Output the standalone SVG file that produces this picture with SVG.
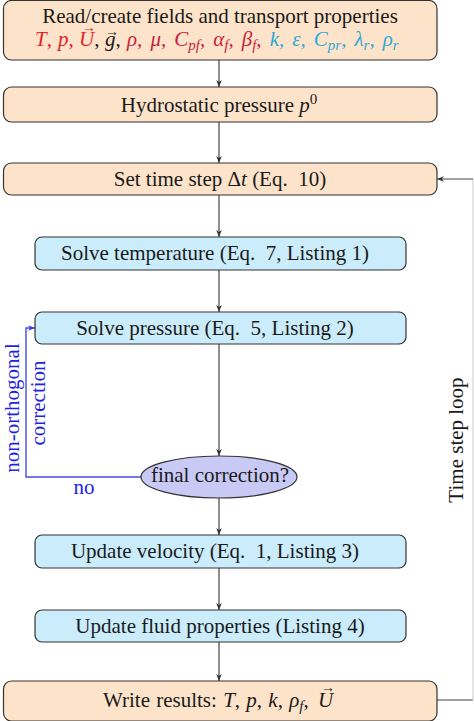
<svg xmlns="http://www.w3.org/2000/svg" width="474" height="721" viewBox="0 0 474 721">
<defs>
<style>
text{font-family:'Liberation Serif','Tinos','Times New Roman','DejaVu Serif',serif;font-size:21px;fill:#1a1a1a}
.m{font-style:italic}
.or{fill:#fde3c9;stroke:#333;stroke-width:1.2}
.bl{fill:#cbecfa;stroke:#333;stroke-width:1.2}
.c{stroke:#444;stroke-width:1.2;fill:none}
.cb{stroke:#4a4ae0;stroke-width:1.4;fill:none}
.red{fill:#e3222c}
.crim{fill:#c81e3c}
.cy{fill:#2fa8d8}
.blu{fill:#1f1fe6}
.vec{font-size:14px;font-style:normal}
.sb{font-size:15px}
.n{font-style:normal}
</style>
<marker id="ah" viewBox="0 0 10 10" refX="10" refY="5" markerWidth="7" markerHeight="7" orient="auto" markerUnits="userSpaceOnUse"><path d="M0,1 L10,5 L0,9 L3,5 Z" fill="#333"/></marker>
<marker id="ahb" viewBox="0 0 10 10" refX="10" refY="5" markerWidth="7" markerHeight="7" orient="auto" markerUnits="userSpaceOnUse"><path d="M0,1 L10,5 L0,9 L3,5 Z" fill="#3a3ae0"/></marker>
</defs>
<rect width="474" height="721" fill="#fff"/>
<g id="connectors">
<line class="c" x1="219" y1="60" x2="219" y2="87" marker-end="url(#ah)"/>
<line class="c" x1="219" y1="122" x2="219" y2="163" marker-end="url(#ah)"/>
<line class="c" x1="219" y1="195" x2="219" y2="237" marker-end="url(#ah)"/>
<line class="c" x1="219" y1="270" x2="219" y2="312" marker-end="url(#ah)"/>
<line class="c" x1="219" y1="344" x2="219" y2="456" marker-end="url(#ah)"/>
<line class="c" x1="219" y1="498" x2="219" y2="535" marker-end="url(#ah)"/>
<line class="c" x1="219" y1="568" x2="219" y2="610" marker-end="url(#ah)"/>
<line class="c" x1="219" y1="642" x2="219" y2="681" marker-end="url(#ah)"/>
<line class="c" x1="437" y1="700" x2="473" y2="700"/>
<line x1="473" y1="700" x2="473" y2="179" stroke="#d8d8d8" stroke-width="1.4"/>
<line class="c" x1="473" y1="179" x2="437" y2="179" marker-end="url(#ah)"/>
<polyline class="cb" points="141,477 26,477 26,328 35,328" marker-end="url(#ahb)"/>
<text class="blu" x="84" y="494" text-anchor="middle" font-size="20">no</text>
<text class="blu" transform="translate(18.5,408) rotate(-90)" text-anchor="middle" font-size="19">non-orthogonal</text>
<text class="blu" transform="translate(45,403) rotate(-90)" text-anchor="middle" font-size="20">correction</text>
<text transform="translate(463,440) rotate(-90)" text-anchor="middle">Time step loop</text>
</g>
<g id="n1">
<rect class="or" x="3.5" y="0.5" width="433.5" height="59.5" rx="8"/>
<text x="220" y="23" text-anchor="middle">Read/create fields and transport properties</text>
<text class="m" y="46" font-size="22" word-spacing="2.8"><tspan class="red" x="35">T<tspan class="n">,</tspan></tspan><tspan class="red" x="58">p<tspan class="n">,</tspan></tspan><tspan class="red" x="79">U</tspan><tspan class="n">,</tspan><tspan x="105">g</tspan><tspan class="n">,</tspan><tspan class="crim" x="127">ρ, μ, C<tspan class="sb" dy="4">pf</tspan><tspan dy="-4">, α</tspan><tspan class="sb" dy="4">f</tspan><tspan dy="-4">, β</tspan><tspan class="sb" dy="4">f</tspan><tspan dy="-4" class="n">, </tspan></tspan><tspan class="cy">k, ε, C<tspan class="sb" dy="4">pr</tspan><tspan dy="-4">, λ</tspan><tspan class="sb" dy="4">r</tspan><tspan dy="-4">, ρ</tspan><tspan class="sb" dy="4">r</tspan></tspan></text>
<text class="vec red" x="89" y="31.5" text-anchor="middle">→</text>
<text class="vec" x="112" y="36" text-anchor="middle">→</text>
</g>
<g id="n2">
<rect class="or" x="3.5" y="87" width="433.5" height="35" rx="8"/>
<text x="219" y="112" text-anchor="middle">Hydrostatic pressure <tspan class="m">p</tspan><tspan font-size="15" dy="-8">0</tspan></text>
</g>
<g id="n3">
<rect class="or" x="3.5" y="163" width="433.5" height="32" rx="8"/>
<text x="220" y="186" text-anchor="middle">Set time step Δ<tspan class="m">t</tspan> (Eq.&#160; 10)</text>
</g>
<g id="n4">
<rect class="bl" x="35" y="237" width="371" height="33" rx="7"/>
<text x="215" y="260" text-anchor="middle">Solve temperature (Eq.&#160; 7, Listing 1)</text>
</g>
<g id="n5">
<rect class="bl" x="35" y="312" width="371" height="32" rx="7"/>
<text x="215" y="335" text-anchor="middle">Solve pressure (Eq.&#160; 5, Listing 2)</text>
</g>
<g id="n6">
<ellipse cx="219" cy="477" rx="78" ry="21" fill="#c9c9f6" stroke="#333" stroke-width="1.2"/>
<text x="220" y="482" text-anchor="middle" font-size="14.3">final correction?</text>
</g>
<g id="n7">
<rect class="bl" x="35" y="535" width="371" height="33" rx="7"/>
<text x="215" y="558" text-anchor="middle">Update velocity (Eq.&#160; 1, Listing 3)</text>
</g>
<g id="n8">
<rect class="bl" x="35" y="610" width="371" height="32" rx="7"/>
<text x="220" y="633" text-anchor="middle">Update fluid properties (Listing 4)</text>
</g>
<g id="n9">
<rect class="or" x="3.5" y="681" width="433.5" height="40" rx="8"/>
<text y="707" word-spacing="1"><tspan x="103">Write results: </tspan><tspan class="m">T</tspan>, <tspan class="m">p</tspan>, <tspan class="m">k</tspan>, <tspan class="m">ρ</tspan><tspan class="m sb" dy="4">f</tspan><tspan dy="-4">,</tspan><tspan class="m" x="318">U</tspan></text>
<text class="vec" x="328" y="691.5" text-anchor="middle">→</text>
</g>
</svg>
